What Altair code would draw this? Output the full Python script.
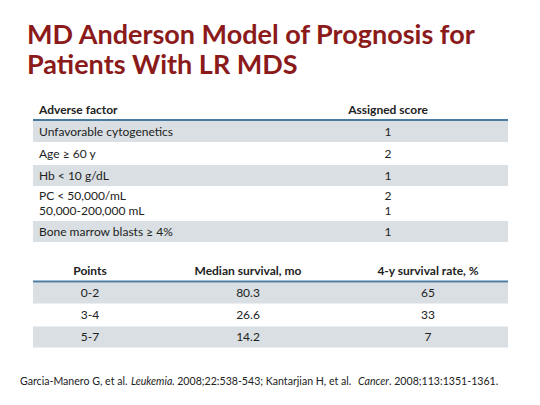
import altair as alt
import pandas as pd

# ---------------- data ----------------
title_lines = ["MD Anderson Model of Prognosis for", "Patients With LR MDS"]

t1_headers = ["Adverse factor", "Assigned score"]
t1_factors = [["Unfavorable cytogenetics"], ["Age \u2265 60 y"], ["Hb < 10 g/dL"],
              ["PC < 50,000/mL", "50,000-200,000 mL"], ["Bone marrow blasts \u2265 4%"]]
t1_scores = [["1"], ["2"], ["1"], ["2", "1"], ["1"]]

t2_headers = ["Points", "Median survival, mo", "4-y survival rate, %"]
t2_points = ["0-2", "3-4", "5-7"]
t2_median = ["80.3", "26.6", "14.2"]
t2_rate = ["65", "33", "7"]

foot_text = ["Garcia-Manero G, et al.", "Leukemia", ". 2008;22:538-543; Kantarjian H, et al.",
             "Cancer", ". 2008;113:1351-1361."]
foot_italic = [False, True, False, True, False]

# ---------------- layout ----------------
FONT = "Lato"
TXT = "#222222"
SHADE = "#D9DFE3"
BLUE = "#4A7CA2"
RED = "#8B1A1A"
X0, X1 = 33, 508
ROW_H, EXTRA_H, LINE_H = 22, 12, 15.6

T1_TOP, T1_HEAD = 120, 110
T1_LEFT, T1_SCORE = 39, 388
T2_TOP, T2_HEAD = 281.5, 270.5
T2_COLS = [90, 248, 428]

rects, rules = [], []
head_left, head_center, body_left, body_center = [], [], [], []

# table 1
rules.append({"x": X0, "x2": X1, "y": T1_TOP})
head_left.append({"x": T1_LEFT, "y": T1_HEAD, "t": t1_headers[0]})
head_center.append({"x": T1_SCORE, "y": T1_HEAD, "t": t1_headers[1]})
top = T1_TOP
for i, (fac, sc) in enumerate(zip(t1_factors, t1_scores)):
    n = len(fac)
    h = ROW_H + (n - 1) * EXTRA_H
    if i % 2 == 0:
        rects.append({"x": X0, "x2": X1, "y": top + 1, "y2": top + h})
    mid = top + h / 2 + 0.5
    for k in range(n):
        yy = mid + (k - (n - 1) / 2) * LINE_H
        body_left.append({"x": T1_LEFT, "y": yy, "t": fac[k]})
        body_center.append({"x": T1_SCORE, "y": yy, "t": sc[k]})
    top += h

# table 2
rules.append({"x": X0, "x2": X1, "y": T2_TOP})
for c, hname in zip(T2_COLS, t2_headers):
    head_center.append({"x": c, "y": T2_HEAD, "t": hname})
top = T2_TOP
for i, row in enumerate(zip(t2_points, t2_median, t2_rate)):
    if i % 2 == 0:
        rects.append({"x": X0, "x2": X1, "y": top + 1, "y2": top + ROW_H})
    mid = top + ROW_H / 2 + 0.5
    for c, val in zip(T2_COLS, row):
        body_center.append({"x": c, "y": mid, "t": val})
    top += ROW_H

title_df = pd.DataFrame({"x": [27, 27], "y": [44, 74], "t": title_lines})
foot_x = [20, 131, 172, 358, 389]
foot_df = pd.DataFrame({"x": foot_x, "y": [385] * 5, "t": foot_text, "it": foot_italic})

W, H = 524, 389
xs = alt.Scale(domain=[8, 8 + W], range=[0, W])
ys = alt.Scale(domain=[8, 8 + H], range=[0, H])


def X(f="x"):
    return alt.X(f"{f}:Q", scale=xs, axis=None)


def Y(f="y"):
    return alt.Y(f"{f}:Q", scale=ys, axis=None)


rect_layer = alt.Chart(pd.DataFrame(rects)).mark_rect(color=SHADE).encode(
    x=X(), x2="x2:Q", y=Y(), y2="y2:Q")
rule_layer = alt.Chart(pd.DataFrame(rules)).mark_rule(color=BLUE, strokeWidth=2).encode(
    x=X(), x2="x2:Q", y=Y())


def text_layer(rows, align, bold, size=12):
    return alt.Chart(pd.DataFrame(rows)).mark_text(
        align=align, baseline="middle", font=FONT, fontSize=size,
        fontWeight="bold" if bold else "normal", color=TXT).encode(
        x=X(), y=Y(), text="t:N")


title_layer = alt.Chart(title_df).mark_text(
    align="left", baseline="alphabetic", font=FONT, fontSize=27,
    fontWeight="bold", color=RED).encode(x=X(), y=Y(), text="t:N")

foot_norm = alt.Chart(foot_df).transform_filter("!datum.it").mark_text(
    align="left", baseline="alphabetic", font=FONT, fontSize=10.6, color=TXT).encode(
    x=X(), y=Y(), text="t:N")
foot_it = alt.Chart(foot_df).transform_filter("datum.it").mark_text(
    align="left", baseline="alphabetic", font=FONT, fontSize=10.6, fontStyle="italic",
    color=TXT).encode(x=X(), y=Y(), text="t:N")

chart = alt.layer(
    rect_layer, rule_layer,
    text_layer(head_left, "left", True),
    text_layer(head_center, "center", True),
    text_layer(body_left, "left", False),
    text_layer(body_center, "center", False),
    title_layer, foot_norm, foot_it,
).properties(width=W, height=H, padding=0,
             autosize=alt.AutoSizeParams(type="none")).configure_view(stroke=None)

chart.save("out.html", embed_options={"renderer": "svg", "actions": False})
